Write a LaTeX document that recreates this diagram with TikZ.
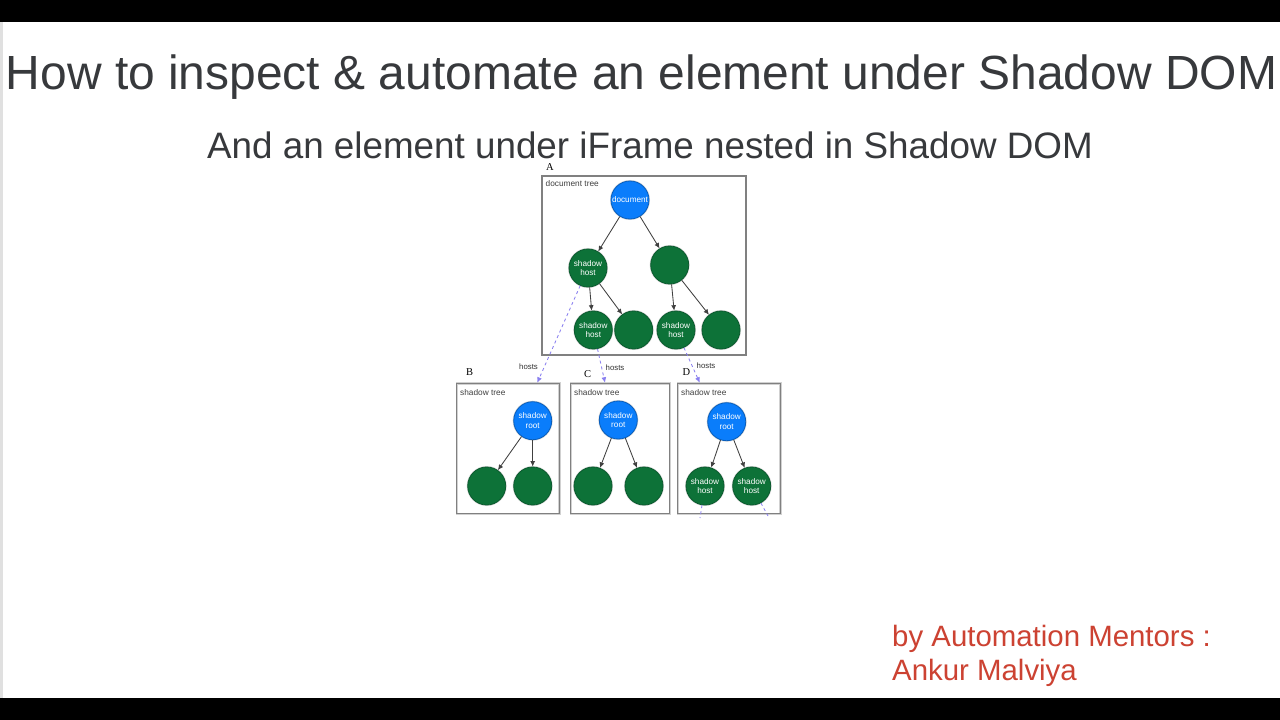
\documentclass[tikz,border=0pt]{standalone}
\usepackage{fontspec}
\setmainfont{Liberation Sans}
\newfontfamily\letterfont{Liberation Serif}
\usetikzlibrary{arrows.meta,positioning}
\definecolor{titlegray}{HTML}{37393C}
\definecolor{byred}{HTML}{CC4232}
\definecolor{rootblue}{HTML}{0A7DFB}
\definecolor{hostgreen}{HTML}{0D7238}
\definecolor{hostedge}{HTML}{0A5A2E}
\definecolor{hostline}{HTML}{8A80F0}
\tikzstyle{treebox} = [draw=black!50,line width=1.1pt,inner sep=0pt,preaction={draw=black!18,line width=2.4pt}]
\tikzstyle{root} = [circle,draw=rootblue!75!black,fill=rootblue,line width=0.8pt,minimum size=38pt,inner sep=0pt,text=white,align=center,font=\fontsize{8.2}{9.8}\selectfont,preaction={draw=black!15,line width=2pt}]
\tikzstyle{host} = [circle,draw=hostedge,fill=hostgreen,line width=0.8pt,minimum size=38pt,inner sep=0pt,text=white,align=center,font=\fontsize{8.2}{9.8}\selectfont,preaction={draw=black!15,line width=2pt}]
\tikzstyle{child} = [line width=0.85pt,draw=black!75,arrows={-Latex[length=5.5pt,width=5pt]}]
\tikzstyle{hosted} = [line width=0.85pt,draw=hostline,dashed,arrows={-Latex[length=5.5pt,width=5pt]}]
\tikzstyle{stub} = [line width=0.8pt,draw=hostline,dashed]
\tikzstyle{treename} = [anchor=west,inner sep=0pt,text=black!75,font=\fontsize{8.3}{10}\selectfont]
\tikzstyle{letter} = [inner sep=0pt,font=\letterfont\fontsize{10.5}{12}\selectfont]
\tikzstyle{hostname} = [inner sep=0pt,text=black!80,font=\fontsize{7.8}{9}\selectfont]
\begin{document}
\begin{tikzpicture}[x=1pt,y=-1pt]
	\useasboundingbox (0,0) rectangle (1280,720);
	\fill[white] (0,0) rectangle (1280,720);
	\fill[black] (0,0) rectangle (1280,22);
	\fill[black] (0,698) rectangle (1280,720);
	\fill[black!12] (0,22) rectangle (2.5,698);

	\node (title)[anchor=base,inner sep=0pt,text=titlegray,font=\fontsize{47.95}{56}\selectfont] at (641.5,89) {How to inspect \& automate an element under Shadow DOM};
	\node (subtitle)[anchor=base,inner sep=0pt,text=titlegray,font=\fontsize{36.8}{44}\selectfont] at (650,158) {And an element under iFrame nested in Shadow DOM};
	\node (by)[anchor=base west,inner sep=0pt,text=byred,font=\fontsize{29.4}{34}\selectfont] at (892,646) {by Automation Mentors :};
	\node (name)[anchor=base west,inner sep=0pt,text=byred,font=\fontsize{29.4}{34}\selectfont] at (892,680) {Ankur Malviya};

	% boxes
	\node (boxA)[treebox,minimum width=204pt,minimum height=179pt] at (644,265.5) {};
	\node (boxB)[treebox,minimum width=102.6pt,minimum height=130.4pt] at (508,448.5) {};
	\node (boxC)[treebox,minimum width=99pt,minimum height=130.4pt] at (620.2,448.5) {};
	\node (boxD)[treebox,minimum width=102.6pt,minimum height=130.4pt] at (729,448.5) {};

	\node (nameA)[treename] at (545.5,184) {document tree};
	\node (nameB)[treename] at (460,393) {shadow tree};
	\node (nameC)[treename] at (574,393) {shadow tree};
	\node (nameD)[treename] at (681,393) {shadow tree};

	\node (letterA)[letter] at (550,167) {A};
	\node (letterB)[letter] at (469.5,372.5) {B};
	\node (letterC)[letter] at (587.5,374) {C};
	\node (letterD)[letter] at (686.5,372.5) {D};

	% document tree
	\node (doc)[root] at (630,200) {document};
	\node (a1)[host] at (588,268) {shadow\\host};
	\node (a2)[host] at (669.7,265) {};
	\node (a3)[host] at (593.3,330) {shadow\\host};
	\node (a4)[host] at (633.7,330) {};
	\node (a5)[host] at (676,330) {shadow\\host};
	\node (a6)[host] at (721,330) {};

	% shadow trees
	\node (rootB)[root] at (532.7,420.7) {shadow\\root};
	\node (b1)[host] at (486.7,486) {};
	\node (b2)[host] at (532.7,486) {};

	\node (rootC)[root] at (618.3,420) {shadow\\root};
	\node (c1)[host] at (593,486) {};
	\node (c2)[host] at (644,486) {};

	\node (rootD)[root] at (726.7,421.7) {shadow\\root};
	\node (d1)[host] at (705,486) {shadow\\host};
	\node (d2)[host] at (751.7,486) {shadow\\host};

	\draw[child] (doc) -- (a1);
	\draw[child] (doc) -- (a2);
	\draw[child] (a1) -- (a3);
	\draw[child] (a1) -- (a4);
	\draw[child] (a2) -- (a5);
	\draw[child] (a2) -- (a6);
	\draw[child] (rootB) -- (b1);
	\draw[child] (rootB) -- (b2);
	\draw[child] (rootC) -- (c1);
	\draw[child] (rootC) -- (c2);
	\draw[child] (rootD) -- (d1);
	\draw[child] (rootD) -- (d2);

	\draw[hosted] (a1) -- (boxB.66);
	\draw[hosted] (a3) -- (boxC.103);
	\draw[hosted] (a5) -- (boxD.114.5);

	\node (hostsB)[hostname] at (528.5,367) {hosts};
	\node (hostsC)[hostname] at (615,367.5) {hosts};
	\node (hostsD)[hostname] at (706,365.5) {hosts};

	\coordinate (endD1) at (700,518);
	\coordinate (endD2) at (768,516);
	\draw[stub] (d1) -- (endD1);
	\draw[stub] (d2) -- (endD2);
\end{tikzpicture}
\end{document}
